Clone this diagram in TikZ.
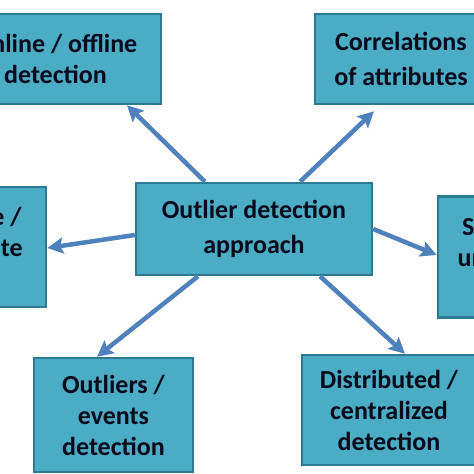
\documentclass[tikz,border=0pt]{standalone}
\usepackage{fontspec}
\setmainfont{Carlito}
\usetikzlibrary{arrows.meta}
\definecolor{boxfill}{HTML}{4BACC6}
\definecolor{boxline}{HTML}{2B7A8F}
\definecolor{arrowblue}{HTML}{4F81BD}
\definecolor{textcol}{HTML}{0A0A1A}
\tikzset{
  box/.style={draw=boxline, fill=boxfill, line width=2.5pt, text=textcol, align=center, inner sep=0pt,
    font=\bfseries\fontsize{26}{31}\selectfont},
  arr/.style={draw=arrowblue, line width=4.5pt, -{Stealth[length=16pt,width=16pt,inset=3pt]}}
}
\begin{document}
\begin{tikzpicture}[x=1pt,y=-1pt]
		\useasboundingbox (0,0) rectangle (474,474);
		\node[box, minimum width=236pt, minimum height=92pt] (approach) at (254,229) {Outlier detection\\[4pt]approach};
		\node[box, minimum width=211pt, minimum height=90pt] (online) at (55.5,59) {Online / offline\\detection};
		\node[box, minimum width=172pt, minimum height=90pt] (corr) at (401,59) {Correlations\\[4pt]of attributes};
		\node[box, minimum width=178pt, minimum height=120pt] (univar) at (-43,247) {Univariate /\\multivariate\\\mbox{}};
		\node[box, minimum width=184pt, minimum height=121pt] (superv) at (530,257) {Supervised /\\unsupervised\\\mbox{}};
		\node[box, minimum width=159pt, minimum height=114pt] (events) at (113.5,415) {Outliers /\\events\\detection};
		\node[box, minimum width=174pt, minimum height=110pt] (distrib) at (389,410) {Distributed /\\centralized\\detection};
		\draw[arr] ([xshift=-49pt]approach.north) -- ([xshift=71.5pt]online.south);
		\draw[arr] ([xshift=46pt]approach.north) -- ([xshift=-27pt,yshift=-6pt]corr.south);
		\draw[arr] ([yshift=-6pt]approach.west) -- ([yshift=-1pt]univar.east);
		\draw[arr] (approach.east) -- ([yshift=2pt]superv.west);
		\draw[arr] ([xshift=-56pt]approach.south) -- ([xshift=-16.5pt]events.north);
		\draw[arr] ([xshift=66pt]approach.south) -- ([xshift=16pt]distrib.north);
		\end{tikzpicture}
\end{document}
